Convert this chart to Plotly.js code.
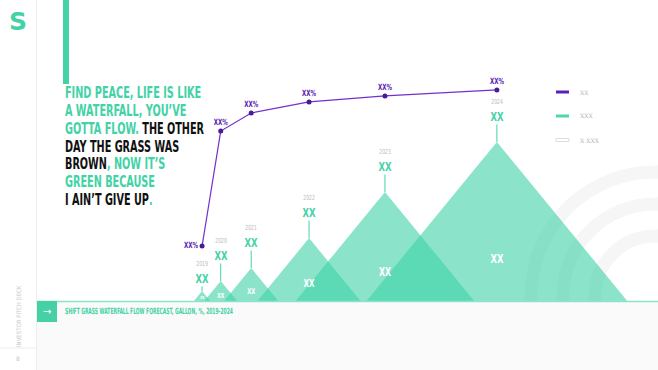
<!DOCTYPE html>
<html>
<head>
<meta charset="utf-8">
<script src="https://cdn.plot.ly/plotly-3.0.1.min.js"></script>
<style>
html,body{margin:0;padding:0;background:#fff;}
#chart{width:658px;height:370px;}
</style>
</head>
<body>
<div id="chart"></div>
<script>
// ---------------- DATA ----------------
const years = ['2019', '2020', '2021', '2022', '2023', '2024'];
const peakPos = [26.7, 29.7, 34.6, 43.9, 56.1, 74.1];      // horizontal position of each mountain
const gallons = [4.1, 8.3, 13.7, 26.1, 45.2, 66.0];         // mountain heights
const percents = [22.8, 70.5, 78.0, 82.6, 85.1, 87.6];      // line values (%)
const peakLabels = ['XX', 'XX', 'XX', 'XX', 'XX', 'XX'];
const innerLabels = ['XX', 'XX', 'XX', 'XX', 'XX', 'XX'];
const pctLabels = ['XX%', 'XX%', 'XX%', 'XX%', 'XX%', 'XX%'];
const legendLabels = ['XX', 'XXX', 'X XXX'];
const headline = [
  [['FIND PEACE, LIFE IS LIKE', 'g']],
  [['A WATERFALL, YOU\u2019VE', 'g']],
  [['GOTTA FLOW.', 'g'], [' THE OTHER', 'k']],
  [['DAY THE GRASS WAS', 'k']],
  [['BROWN', 'k'], [', NOW IT\u2019S', 'g']],
  [['GREEN BECAUSE', 'g']],
  [['I AIN\u2019T GIVE UP', 'k'], ['.', 'g']]
];
const footerTitle = 'SHIFT GRASS WATERFALL FLOW FORECAST, GALLON, %, 2019-2024';

// ---------------- STYLE ----------------
const FW = 658, FH = 370, L = 36, T = 60, B = 69, R = 0;
const PW = FW - L - R, PH = FH - T - B;
const TEAL = '#43d2a6', PURPLE = '#7330c9', DPURPLE = '#4b1a98';
const COND = 'DejaVu Sans Condensed, Liberation Sans Narrow, sans-serif';
const SLOPE = 1.22;               // mountain side steepness (px/px)
const SCALEX = 0.72;
const px = x => (x - L) / PW;
const py = y => (FH - B - y) / PH;

const pxPerX = PW / 100, pxPerY = PH / 100;
const traces = [];
gallons.forEach((h, i) => {
  const hw = h * pxPerY / SLOPE / pxPerX;
  const c = peakPos[i];
  traces.push({
    type: 'scatter', mode: 'lines', x: [c - hw, c, c + hw, c - hw], y: [0, h, 0, 0],
    fill: 'toself', fillcolor: 'rgba(62,210,166,0.6)', line: {width: 0},
    hoverinfo: 'skip', showlegend: false
  });
});
traces.push({
  type: 'scatter', mode: 'text', x: peakPos, y: gallons.map(h => h * 0.26),
  text: innerLabels, textposition: 'middle center',
  textfont: {family: COND, weight: 'bold', color: '#ffffff', size: [4, 7, 8, 11, 12, 13]},
  hoverinfo: 'skip', showlegend: false
});
traces.push({
  type: 'scatter', mode: 'lines+markers+text', x: peakPos, y: percents, yaxis: 'y2',
  text: pctLabels,
  textposition: percents.map((v, i) => i === 0 ? 'middle left' : 'top center'),
  textfont: {family: COND, weight: 'bold', color: '#5a22b3', size: 8.5},
  line: {color: PURPLE, width: 1.2}, marker: {color: DPURPLE, size: 5},
  cliponaxis: false, hoverinfo: 'skip', showlegend: false
});

const shapes = [];
// watermark rings
[[655, 296, 124], [655, 296, 92], [655, 296, 60]].forEach(([cx, cy, r]) => {
  shapes.push({type: 'circle', xref: 'paper', yref: 'paper', layer: 'below',
    x0: px(cx - r), x1: px(cx + r), y0: py(cy + r), y1: py(cy - r),
    line: {color: '#f6f6f6', width: 13}, fillcolor: 'rgba(0,0,0,0)'});
});
// footer background
shapes.push({type: 'rect', xref: 'paper', yref: 'paper', layer: 'below',
  x0: px(36), x1: px(658), y0: py(370), y1: py(301), fillcolor: '#fafafa', line: {width: 0}});
shapes.push({type: 'line', xref: 'paper', yref: 'paper', layer: 'above',
  x0: px(36), x1: px(658), y0: py(301.5), y1: py(301.5), line: {color: '#8fe2ca', width: 1.5}});
shapes.push({type: 'rect', xref: 'paper', yref: 'paper', layer: 'above',
  x0: px(37), x1: px(57), y0: py(322), y1: py(301), fillcolor: '#45d0a5', line: {width: 0}});
// sidebar
shapes.push({type: 'line', xref: 'paper', yref: 'paper',
  x0: px(36.5), x1: px(36.5), y0: py(0), y1: py(370), line: {color: '#ededed', width: 1}});
shapes.push({type: 'line', xref: 'paper', yref: 'paper',
  x0: px(0), x1: px(36), y0: py(348), y1: py(348), line: {color: '#ededed', width: 1}});
// top accent bar
shapes.push({type: 'rect', xref: 'paper', yref: 'paper',
  x0: px(63), x1: px(69), y0: py(84), y1: py(0), fillcolor: TEAL, line: {width: 0}});
// legend symbols
shapes.push({type: 'line', xref: 'paper', yref: 'paper', x0: px(556), x1: px(569), y0: py(92), y1: py(92),
  line: {color: '#5a1fb8', width: 3}});
shapes.push({type: 'line', xref: 'paper', yref: 'paper', x0: px(556), x1: px(569), y0: py(116), y1: py(116),
  line: {color: '#4fd6ad', width: 3}});
shapes.push({type: 'rect', xref: 'paper', yref: 'paper', x0: px(556), x1: px(569), y0: py(141.5), y1: py(138.5),
  fillcolor: '#ffffff', line: {color: '#dcdcdc', width: 1}});

const annotations = [];
const annScale = [];
function addAnn(a, s) { annotations.push(a); annScale.push(s || 1); }
// logo
addAnn({xref: 'paper', yref: 'paper', x: px(18), y: py(22), xanchor: 'center', yanchor: 'middle',
  text: 'S', showarrow: false, font: {family: 'DejaVu Sans', weight: 'bold', size: 25, color: TEAL}});
addAnn({xref: 'paper', yref: 'paper', x: px(18), y: py(316), xanchor: 'center', yanchor: 'middle',
  text: 'INVESTOR PITCH DECK', showarrow: false, textangle: -90,
  font: {family: 'DejaVu Sans Condensed', size: 6, color: '#c9c9c9'}});
addAnn({xref: 'paper', yref: 'paper', x: px(18), y: py(358), xanchor: 'center', yanchor: 'middle',
  text: '8', showarrow: false, font: {family: 'DejaVu Sans', size: 6, color: '#c9c9c9'}});
// headline
const lineY = [93.5, 111.2, 128.8, 146.5, 164.2, 181.8, 199.5];
headline.forEach((parts, i) => {
  const txt = parts.map(([t, c]) => `<span style="color:${c === 'g' ? TEAL : '#111111'}">${t}</span>`).join('');
  addAnn({xref: 'paper', yref: 'paper', x: px(63), y: py(lineY[i]), xanchor: 'left', yanchor: 'middle',
    align: 'left', text: txt, showarrow: false, font: {family: COND, weight: 'bold', size: 15, color: '#111'}}, SCALEX);
});
// footer
addAnn({xref: 'paper', yref: 'paper', x: px(63), y: py(311), xanchor: 'left', yanchor: 'middle', align: 'left',
  text: footerTitle, showarrow: false, font: {family: COND, weight: 'bold', size: 8.5, color: TEAL}}, 0.585);
addAnn({xref: 'paper', yref: 'paper', x: px(47), y: py(311.5), xanchor: 'center', yanchor: 'middle',
  text: '\u2192', showarrow: false, font: {family: 'DejaVu Sans', size: 10, color: '#ffffff'}});
// legend labels
[92, 116, 140].forEach((yy, i) => {
  addAnn({xref: 'paper', yref: 'paper', x: px(578), y: py(yy), xanchor: 'left', yanchor: 'middle', align: 'left',
    text: legendLabels[i], showarrow: false, font: {family: 'DejaVu Serif', size: 6, color: '#b8b8b8'}});
});
// peak labels
years.forEach((yr, i) => {
  addAnn({xref: 'x', yref: 'y', x: peakPos[i], y: gallons[i],
    text: `<span style="font-size:7px;color:#b9b9b9;font-weight:normal">${yr}</span><br>${peakLabels[i]}`,
    showarrow: true, arrowhead: 0, arrowwidth: 1, arrowcolor: TEAL, ax: 0, ay: i === 0 ? -18 : -31,
    font: {family: COND, weight: 'bold', size: 13, color: TEAL}, borderpad: 0}, SCALEX);
});

const layout = {
  width: FW, height: FH, margin: {l: L, r: R, t: T, b: B, pad: 0},
  paper_bgcolor: '#ffffff', plot_bgcolor: 'rgba(0,0,0,0)', showlegend: false,
  xaxis: {range: [0, 100], visible: false, fixedrange: true},
  yaxis: {range: [0, 100], visible: false, fixedrange: true},
  yaxis2: {range: [0, 100], visible: false, overlaying: 'y', fixedrange: true},
  shapes, annotations
};

function squeeze(el, s) {
  const anchor = el.getAttribute('text-anchor') || 'start';
  const origin = anchor === 'start' ? 'left' : anchor === 'end' ? 'right' : 'center';
  el.style.transformBox = 'fill-box';
  el.style.transformOrigin = origin + ' center';
  el.style.transform = `scaleX(${s})`;
}

Plotly.newPlot('chart', traces, layout, {displayModeBar: false, staticPlot: true}).then(gd => {
  gd.querySelectorAll('.annotation').forEach(g => {
    const idx = +g.getAttribute('data-index');
    const s = annScale[idx];
    if (s !== 1) g.querySelectorAll('text.annotation-text').forEach(t => squeeze(t, s));
  });
  gd.querySelectorAll('.textpoint text').forEach(t => squeeze(t, SCALEX));
});
</script>
</body>
</html>
